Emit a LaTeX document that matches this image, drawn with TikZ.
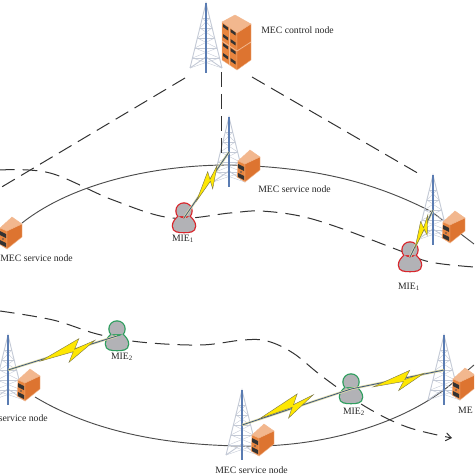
\documentclass[tikz,border=0pt]{standalone}
\usepackage{fontspec}
\usetikzlibrary{arrows.meta}
\setmainfont{Liberation Serif}
\definecolor{towergray}{HTML}{C4CAD6}
\definecolor{towerblue}{HTML}{5A7CB2}
\definecolor{boxfront}{HTML}{E8853F}
\definecolor{boxside}{HTML}{DD7430}
\definecolor{boxtop}{HTML}{F2B78E}
\definecolor{miered}{HTML}{D8262C}
\definecolor{miegreen}{HTML}{2F9E5F}
\definecolor{miebody}{HTML}{B2B2B6}
\tikzset{
    lbl/.style={inner sep=0pt, font=\fontsize{7.3}{9}\selectfont, text=black!85},
    route/.style={draw=black!70, line width=0.7pt},
    backhaul/.style={draw=black!80, line width=0.75pt, dash pattern=on 11pt off 5.5pt},
    trajectory/.style={draw=black!80, line width=0.75pt, dash pattern=on 11pt off 6pt},
    linkline/.style={draw=towerblue!70!black, line width=0.6pt,
        preaction={draw=black!35!yellow!40!white, line width=1.7pt}},
    pics/radiotower/.style={code={
        \coordinate (-feed) at (0,-35);
        \draw[towergray, line width=0.7pt] (-16,-5) -- (0,-70) -- (16,-5);
        \draw[towergray, line width=0.7pt] (-16,-5) -- (0,-16) -- (16,-5);
        \foreach \h in {15,25,35,45,55} {
            \draw[towergray, line width=0.5pt] ({-\h*16/65},{-70+\h}) -- ({\h*16/65},{-70+\h});
            \draw[towergray, line width=0.3pt] ({-\h*16/65},{-70+\h}) -- ({(\h+10)*16/65},{-60+\h});
            \draw[towergray, line width=0.3pt] ({\h*16/65},{-70+\h}) -- ({-(\h+10)*16/65},{-60+\h});
        }
        \draw[towerblue, line width=0.8pt] (0,-70) -- (0,0);
    }},
    pics/mecserver/.style={code={
        \filldraw[draw=boxtop, fill=boxtop, line width=0.3pt] (1,-16) -- (13,-27) -- (23,-20) -- (8,-13) -- cycle;
        \filldraw[draw=boxtop, fill=boxfront, line width=0.3pt] (0,0) -- (8,5) -- (8,-13) -- (1,-16) -- cycle;
        \filldraw[draw=boxtop, fill=boxside, line width=0.3pt] (8,5) -- (23,-7) -- (23,-20) -- (8,-13) -- cycle;
        \fill[black!80] (1,-13) -- (7,-10) -- (7,-6) -- (1,-9) -- cycle;
        \fill[black!80] (1,-4) -- (7,-1) -- (7,3) -- (1,0) -- cycle;
        \fill[black!70] (4,-5) circle (0.9);
    }},
    pics/mecrack/.style={code={
        \filldraw[draw=boxtop, fill=boxtop, line width=0.3pt] (0,-38) -- (13,-45) -- (29,-36) -- (15,-27) -- cycle;
        \filldraw[draw=boxtop, fill=boxfront, line width=0.3pt] (0,0) -- (15,10) -- (15,-27) -- (0,-38) -- cycle;
        \filldraw[draw=boxtop, fill=boxside, line width=0.3pt] (15,10) -- (29,0) -- (29,-36) -- (15,-27) -- cycle;
        \draw[boxtop, line width=0.6pt] (0,-19) -- (15,-9) -- (29,-18);
        \draw[boxtop, line width=0.6pt] (7.5,-33) -- (7.5,5);
        \foreach \col/\row in {1/-36,8.5/-31,1/-17,8.5/-12} {
            \fill[black!80] (\col,\row) -- ++(5,3.5) -- ++(0,3) -- ++(-5,-3.5) -- cycle;
            \fill[black!80] (\col,\row+10) -- ++(5,3.5) -- ++(0,3) -- ++(-5,-3.5) -- cycle;
        }
    }},
    pics/mieuser/.style={code={
        \coordinate (-center) at (0,0);
        \draw[#1, line width=1.9pt] (0,-7) circle (7.5)
            (-5,-2) .. controls (-8,1) and (-11,4) .. (-11,8) .. controls (-11,14) and (-5,14) .. (0,14)
            .. controls (5,14) and (11,14) .. (11,8) .. controls (11,4) and (8,1) .. (5,-2) -- cycle;
        \fill[miebody] (0,-7) circle (7.5)
            (-5,-2) .. controls (-8,1) and (-11,4) .. (-11,8) .. controls (-11,14) and (-5,14) .. (0,14)
            .. controls (5,14) and (11,14) .. (11,8) .. controls (11,4) and (8,1) .. (5,-2) -- cycle;
    }},
    pics/boltsign/.style={code={
        \filldraw[draw=black!60!yellow, fill=yellow!90!orange, line width=0.3pt]
            (-26,2) -- (17,-9) -- (10,0) -- (32,-3) -- (1,11) -- (8,2) -- cycle;
    }},
}

\begin{document}
\begin{tikzpicture}[>={Straight Barb[length=4pt, width=6pt]}, x=0.75pt, y=-0.75pt]
    \useasboundingbox (0,0) rectangle (474,474);
    \clip (0,0) rectangle (474,474);

    % 1. Solid routes between service nodes
    \coordinate (routeleft) at (22,223);
    \coordinate (routeright) at (474,244);
    \coordinate (routebotleft) at (35,397);
    \coordinate (routestub) at (474,365);
    \coordinate (midfoot) at (229,165);
    \coordinate (rightfoot) at (432,212);
    \coordinate (botmidfoot) at (242,446);
    \coordinate (botrightfoot) at (449,386);
    \draw[route] (routeleft) .. controls (70,185) and (150,165) .. (midfoot);
    \draw[route] (midfoot) .. controls (310,167) and (370,180) .. (rightfoot);
    \draw[route] (rightfoot) -- (routeright);
    \draw[route] (routebotleft) .. controls (90,430) and (160,445) .. (botmidfoot);
    \draw[route] (botmidfoot) .. controls (320,448) and (400,425) .. (botrightfoot);
    \draw[route] (botrightfoot) -- (routestub);

    % 2. Towers
    \pic (ctrltower) at (206,73) {radiotower};
    \pic (midtower) at (229,187) {radiotower};
    \pic (righttower) at (433,245) {radiotower};
    \pic (botlefttower) at (8,405) {radiotower};
    \pic (botmidtower) at (242,460) {radiotower};
    \pic (botrighttower) at (444,405) {radiotower};

    % 3. Backhaul from the control node
    \coordinate (ctrlleft) at (185,78);
    \coordinate (ctrlmid) at (221,72);
    \coordinate (ctrlright) at (252,77);
    \coordinate (endleft) at (0,188);
    \coordinate (endmid) at (221,155);
    \coordinate (endright) at (421,175);
    \draw[backhaul] (ctrlleft) -- (endleft);
    \draw[backhaul] (ctrlmid) -- (endmid);
    \draw[backhaul] (ctrlright) -- (endright);

    % 4. Movement of the users
    \draw[trajectory] plot[smooth, tension=0.6] coordinates {(0,170) (50,173) (113,200) (172,218)
        (230,213) (260,211) (300,216) (340,228) (398,250) (430,262) (474,267)};
    \draw[trajectory, ->] plot[smooth, tension=0.6] coordinates {(0,311) (53,320) (97,334) (140,342)
        (200,345) (243,340) (267,341) (293,353) (323,377) (366,407) (407,427) (452,438)};

    % 5. Servers
    \pic at (-1,244) {mecserver};
    \pic at (237,177) {mecserver};
    \pic at (442,238) {mecserver};
    \pic at (17,396) {mecserver};
    \pic at (251,451) {mecserver};
    \pic at (452,395) {mecserver};
    \pic at (222,60) {mecrack};

    % 6. Users and radio links
    \pic (miea) at (184,218) {mieuser=miered};
    \pic (mieb) at (410,257) {mieuser=miered};
    \pic (miec) at (117,336) {mieuser=miegreen};
    \pic (mied) at (351,389) {mieuser=miegreen};
    \draw[linkline] (midtower-feed) -- (miea-center);
    \draw[linkline] (righttower-feed) -- (mieb-center);
    \draw[linkline] (botlefttower-feed) -- (miec-center);
    \draw[linkline] (botmidtower-feed) -- (mied-center);
    \draw[linkline] (mied-center) -- (botrighttower-feed);
    \pic[rotate=55, scale=0.7] at (206,185) {boltsign};
    \pic[rotate=64, scale=0.6] at (421,233) {boltsign};
    \pic[rotate=16] at (65,352) {boltsign};
    \pic[rotate=19] at (284,408) {boltsign};
    \pic[rotate=10, scale=0.9] at (396,381) {boltsign};

    % 7. Labels
    \node[lbl, anchor=west] (ctrllabel) at (261,30) {MEC control node};
    \node[lbl, anchor=west] (midlabel) at (258,189) {MEC service node};
    \node[lbl, anchor=west] (leftlabel) at (0,258) {MEC service node};
    \node[lbl, anchor=east] (botleftlabel) at (48,418) {service node};
    \node[lbl, anchor=west] (botmidlabel) at (215,470) {MEC service node};
    \node[lbl, anchor=east] (botrightlabel) at (473,410) {ME};
    \node[lbl] (mialabel) at (183,239) {MIE\textsubscript{1}};
    \node[lbl] (miblabel) at (409,287) {MIE\textsubscript{1}};
    \node[lbl] (miclabel) at (122,357) {MIE\textsubscript{2}};
    \node[lbl] (midlabelb) at (354,412) {MIE\textsubscript{2}};
\end{tikzpicture}
\end{document}
